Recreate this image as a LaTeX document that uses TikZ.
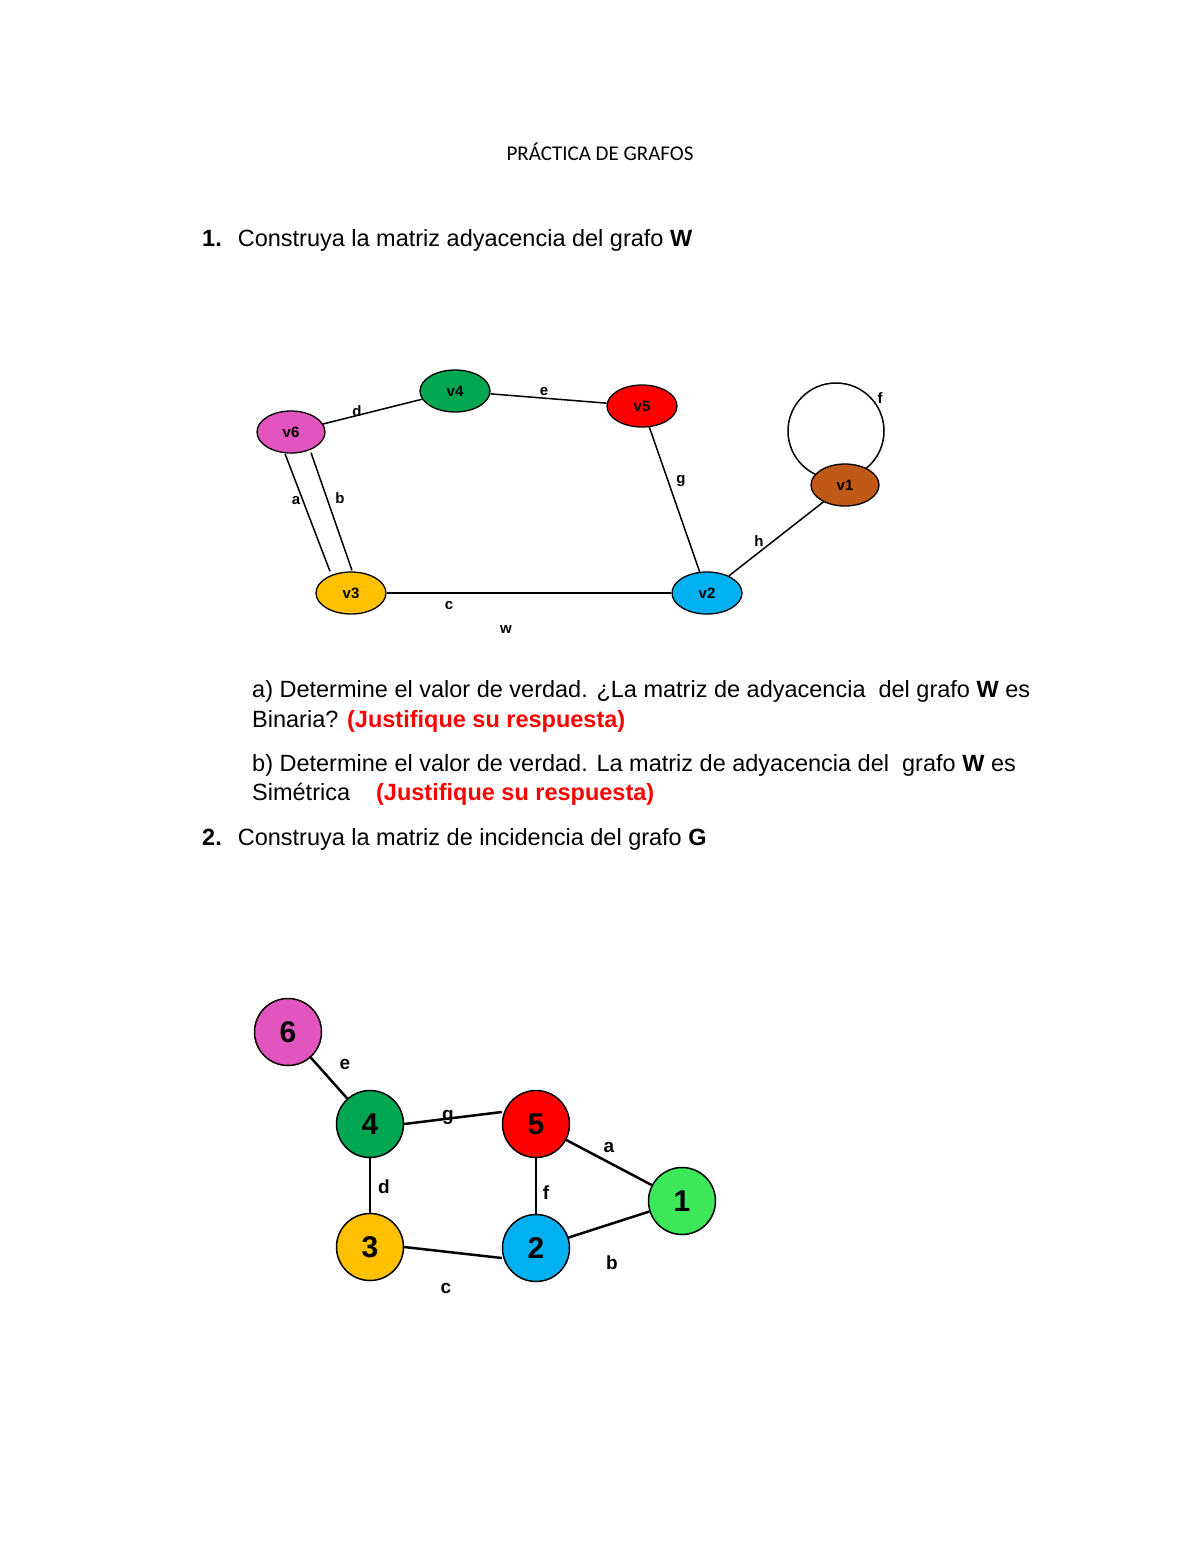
\documentclass[tikz,border=0pt]{standalone}
\usepackage{fontspec}
\setmainfont{Liberation Sans}
\newfontfamily\titlefont{Carlito}
\usetikzlibrary{shapes.geometric}
\definecolor{cgreen}{RGB}{0,166,81}
\definecolor{cred}{RGB}{255,0,0}
\definecolor{cmag}{RGB}{226,84,190}
\definecolor{cbrown}{RGB}{192,88,24}
\definecolor{cyel}{RGB}{255,192,0}
\definecolor{ccyan}{RGB}{0,176,240}
\definecolor{clgreen}{RGB}{60,232,90}
\tikzset{
 wv/.style={ellipse,draw=black,line width=1.3pt,minimum width=70pt,minimum height=42pt,inner sep=0pt,font=\bfseries\fontsize{15}{15}\selectfont},
 gv/.style={circle,draw=black,line width=1.5pt,minimum size=67pt,inner sep=0pt,font=\bfseries\fontsize{30}{30}\selectfont},
 we/.style={line width=1.5pt},
 ge/.style={line width=2.5pt},
 el/.style={font=\bfseries\fontsize{15}{15}\selectfont},
 gl/.style={font=\bfseries\fontsize{19}{19}\selectfont},
 txt/.style={anchor=west,font=\fontsize{23.5}{23.5}\selectfont,inner sep=0pt}
}
\begin{document}
\begin{tikzpicture}[x=1pt,y=-1pt]
\useasboundingbox[fill=white] (0,0) rectangle (1200,1553);
\node[font=\titlefont\fontsize{21}{21}\selectfont] (title) at (600,152) {PRÁCTICA DE GRAFOS};
\node[txt] (q1) at (202,240) {\textbf{1.}\hspace{16pt}Construya la matriz adyacencia del grafo \textbf{W}};
% graph W
\node[wv,fill=cgreen] (v4) at (455,391) {v4};
\node[wv,fill=cred] (v5) at (642,406) {v5};
\node[wv,fill=cmag,minimum width=68pt] (v6) at (291,432) {v6};
\node[wv,fill=cyel] (v3) at (351,593) {v3};
\node[wv,fill=ccyan] (v2) at (707,593) {v2};
\draw[we] (836,431) circle (48);
\node[wv,fill=cbrown,minimum width=68pt] (v1) at (845,485) {v1};
\draw[we] (v6) -- (v4);
\draw[we] (v4) -- (v5);
\draw[we] (v5) -- (v2);
\draw[we] (v2) -- (v1);
\draw[we] (v3.east) -- (v2.west);
\draw[we] ([xshift=-6pt]v6.south) -- ([xshift=-21pt]v3.north);
\draw[we] ([xshift=20pt,yshift=1pt]v6.south) -- ([xshift=1pt,yshift=1pt]v3.north);
\node[el] (ld) at (357,411) {d};
\node[el] (le) at (544,392) {e};
\node[el] (lg) at (681,481) {g};
\node[el] (lh) at (759,541) {h};
\node[el] (lf) at (880,398) {f};
\node[el] (la) at (296,501) {a};
\node[el] (lb) at (340,498) {b};
\node[el] (lc) at (449,606) {c};
\node[el] (lw) at (506,630) {w};
% questions
\node[txt] (qa1) at (252,691) {a) Determine el valor de verdad. ¿La matriz de adyacencia\ \ del grafo \textbf{W} es};
\node[txt] (qa2) at (252,721) {Binaria? \textcolor{red}{\textbf{(Justifique su respuesta)}}};
\node[txt] (qb1) at (252,765) {b) Determine el valor de verdad. La matriz de adyacencia del\ \ grafo \textbf{W} es};
\node[txt] (qb2) at (252,794) {Simétrica\hspace{26pt}\textcolor{red}{\textbf{(Justifique su respuesta)}}};
\node[txt] (q2) at (202,839) {\textbf{2.}\hspace{16pt}Construya la matriz de incidencia del grafo \textbf{G}};
% graph G
\node[gv,fill=cmag] (n6) at (288,1032) {6};
\node[gv,fill=cgreen] (n4) at (370,1124) {4};
\node[gv,fill=cred] (n5) at (536,1124) {5};
\node[gv,fill=clgreen] (n1) at (682,1201) {1};
\node[gv,fill=cyel] (n3) at (370,1247) {3};
\node[gv,fill=ccyan] (n2) at (536,1248) {2};
\draw[ge] (n6) -- (n4);
\draw[ge] (n4.east) -- ([yshift=12pt]n5.west);
\draw[ge] (n5) -- (n1);
\draw[ge] (n4) -- (n3);
\draw[ge] (n5) -- (n2);
\draw[ge] (n3.east) -- ([yshift=-10pt]n2.west);
\draw[ge] (n2) -- (n1);
\node[gl] (ge) at (345,1064) {e};
\node[gl] (gg) at (448,1117) {g};
\node[gl] (ga) at (609,1147) {a};
\node[gl] (gd) at (384,1187) {d};
\node[gl] (gf) at (546,1193) {f};
\node[gl] (gb) at (612,1263) {b};
\node[gl] (gc) at (446,1288) {c};
\end{tikzpicture}
\end{document}
